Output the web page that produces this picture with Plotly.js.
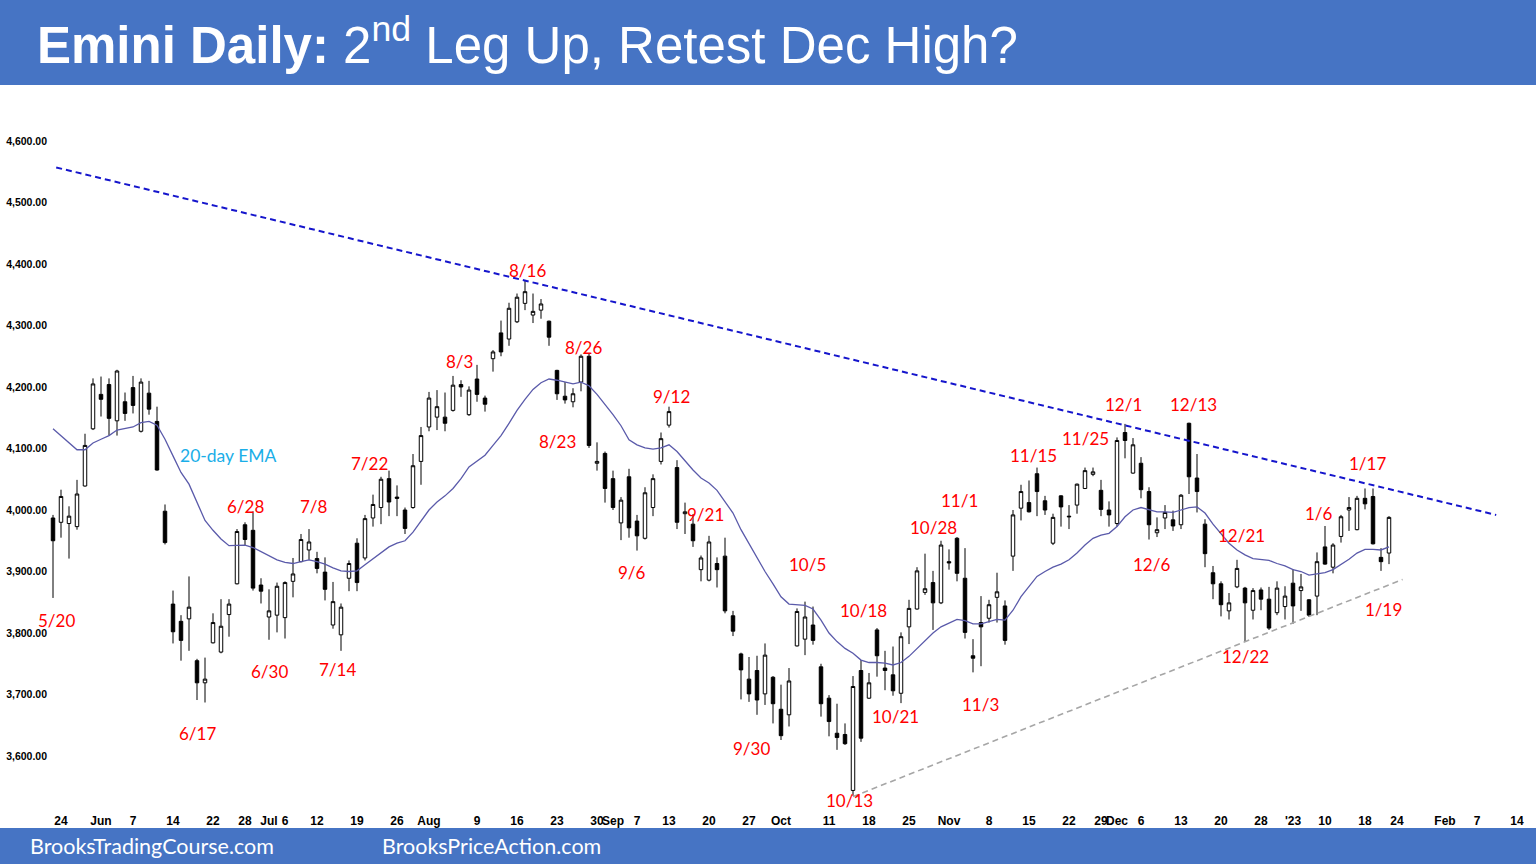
<!DOCTYPE html>
<html>
<head>
<meta charset="utf-8">
<script src="https://cdn.plot.ly/plotly-3.0.1.min.js"></script>
<style>
html,body{margin:0;padding:0;background:#fff;overflow:hidden;}
#chart{width:1536px;height:864px;}
</style>
</head>
<body>
<div id="chart"></div>
<script>
// ---- data (daily Emini bars, 2022-05-20 .. 2023-01-20) ----
const dates = ['5/20','5/23','5/24','5/25','5/26','5/27','5/31',
'6/1','6/2','6/3','6/6','6/7','6/8','6/9','6/10','6/13','6/14','6/15','6/16','6/17','6/21','6/22','6/23','6/24','6/27','6/28','6/29','6/30',
'7/1','7/5','7/6','7/7','7/8','7/11','7/12','7/13','7/14','7/15','7/18','7/19','7/20','7/21','7/22','7/25','7/26','7/27','7/28','7/29',
'8/1','8/2','8/3','8/4','8/5','8/8','8/9','8/10','8/11','8/12','8/15','8/16','8/17','8/18','8/19','8/22','8/23','8/24','8/25','8/26','8/29','8/30','8/31',
'9/1','9/2','9/6','9/7','9/8','9/9','9/12','9/13','9/14','9/15','9/16','9/19','9/20','9/21','9/22','9/23','9/26','9/27','9/28','9/29','9/30',
'10/3','10/4','10/5','10/6','10/7','10/10','10/11','10/12','10/13','10/14','10/17','10/18','10/19','10/20','10/21','10/24','10/25','10/26','10/27','10/28','10/31',
'11/1','11/2','11/3','11/4','11/7','11/8','11/9','11/10','11/11','11/14','11/15','11/16','11/17','11/18','11/21','11/22','11/23','11/25','11/28','11/29','11/30',
'12/1','12/2','12/5','12/6','12/7','12/8','12/9','12/12','12/13','12/14','12/15','12/16','12/19','12/20','12/21','12/22','12/23','12/27','12/28','12/29','12/30',
'1/3','1/4','1/5','1/6','1/9','1/10','1/11','1/12','1/13','1/17','1/18','1/19','1/20'];

const openPx = [3987,3980,3978,3973,4039,4132,4188,
4204,4145,4176,4199,4128,4190,4144,3998,3847,3819,3823,3755,3719,3784,3769,3830,3880,3976,3967,3878,3826,
3829,3825,3884,3916,3935,3921,3899,3813,3797,3889,3946,3922,3987,4004,4051,4021,4000,4004,4079,4135,
4151,4151,4162,4204,4155,4213,4182,4246,4288,4278,4306,4336,4317,4325,4307,4227,4185,4176,4208,4250,4076,4092,4051,
3979,4054,3982,3954,4004,4079,4138,4069,3994,3977,3903,3886,3913,3925,3828,3766,3725,3739,3701,3728,3676,
3667,3779,3790,3813,3745,3694,3637,3635,3544,3739,3694,3805,3743,3732,3702,3810,3839,3866,3882,3849,3916,
3954,3889,3763,3817,3824,3858,3844,3925,4003,4012,4059,4015,3946,4023,3990,4008,4035,4058,4032,4000,3978,
4126,4060,4076,4030,3963,3987,3984,3976,4141,4052,3977,3898,3880,3836,3875,3873,3837,3870,3855,3833,3843,
3881,3869,3854,3860,3940,3907,3957,4000,3968,4019,4022,3923,3930];

const highPx = [3992,4033,4006,4049,4124,4214,4217,
4214,4228,4191,4218,4214,4210,4168,4009,3869,3829,3892,3758,3760,3832,3855,3855,3969,3980,3998,3889,3871,
3882,3884,3922,3961,3969,3932,3923,3883,3848,3918,3954,3992,4025,4054,4064,4040,4004,4091,4135,4192,
4195,4191,4218,4211,4201,4236,4186,4260,4308,4337,4352,4373,4352,4343,4308,4228,4208,4198,4253,4254,4110,4095,4064,
4021,4067,3992,4037,4058,4126,4168,4081,4012,3993,3926,3958,3923,3955,3836,3768,3761,3763,3783,3730,3716,
3743,3840,3851,3843,3750,3699,3685,3653,3730,3756,3735,3808,3771,3778,3801,3854,3907,3929,3901,3950,3936,
3956,3938,3790,3860,3854,3898,3853,4000,4041,4048,4069,4023,3994,4024,4008,4043,4069,4069,4049,4014,4118,
4140,4117,4086,4037,3988,4008,3999,4026,4142,4091,3985,3909,3884,3865,3919,3875,3873,3874,3875,3884,3876,
3904,3896,3855,3931,3974,3946,3992,4021,4023,4035,4035,3938,3990];

const lowPx = [3857,3955,3921,3968,4038,4130,4152,
4121,4121,4145,4157,4126,4155,4064,3944,3783,3755,3771,3691,3687,3783,3767,3794,3879,3942,3869,3848,3789,
3801,3791,3858,3915,3919,3897,3853,3807,3771,3868,3868,3918,3973,3977,3990,3990,3961,4002,4041,4128,
4130,4128,4160,4184,4153,4176,4160,4225,4250,4267,4304,4325,4304,4311,4267,4179,4173,4167,4193,4101,4064,4012,4000,
3951,3955,3934,3952,3990,4074,4134,3969,3961,3940,3884,3884,3874,3832,3795,3692,3688,3667,3683,3653,3626,
3648,3778,3764,3781,3664,3632,3610,3618,3535,3623,3693,3729,3707,3698,3686,3782,3838,3862,3805,3847,3903,
3884,3791,3736,3746,3817,3817,3781,3901,3983,3996,3990,3992,3943,3973,3969,3994,4034,4055,3990,3973,3973,
4084,4059,4019,3952,3956,3969,3966,3969,4026,3996,3907,3855,3827,3822,3873,3786,3822,3837,3805,3829,3822,
3815,3836,3826,3829,3911,3897,3947,3966,3967,4001,3944,3901,3912];

const closePx = [3950,4022,3990,4026,4105,4205,4180,
4149,4226,4157,4170,4208,4164,4065,3947,3802,3788,3842,3719,3725,3817,3811,3847,3965,3952,3873,3868,3836,
3876,3882,3896,3952,3948,3905,3871,3851,3842,3913,3882,3986,4009,4050,4013,4019,3970,4072,4121,4182,
4168,4141,4203,4200,4195,4188,4172,4257,4257,4328,4346,4355,4323,4335,4281,4189,4179,4189,4250,4105,4079,4035,4004,
4016,3971,3958,4028,4051,4116,4160,3980,3997,3950,3922,3948,3903,3836,3803,3740,3701,3691,3764,3685,3633,
3722,3835,3826,3788,3685,3656,3630,3620,3713,3629,3719,3763,3739,3706,3794,3840,3901,3872,3849,3943,3914,
3897,3801,3759,3810,3846,3867,3788,3992,4030,3997,4030,4000,3988,4005,3989,4042,4064,4062,4001,3992,4113,
4113,4106,4033,3976,3968,3996,3974,4024,4054,4030,3929,3880,3846,3849,3905,3849,3869,3855,3808,3873,3860,
3844,3875,3829,3916,3912,3943,3989,4004,4019,4010,3945,3916,3988];

const ema20 = [4132,4121,4109,4098,4098,4109,4115,
4121,4130,4132,4135,4142,4144,4138,4115,4088,4061,4042,4011,3983,3967,3953,3942,3942,3943,3939,3932,3925,
3919,3915,3913,3916,3919,3916,3912,3906,3901,3900,3901,3911,3921,3930,3940,3946,3950,3964,3983,4000,
4013,4023,4035,4051,4070,4080,4089,4105,4121,4141,4162,4180,4196,4207,4213,4211,4208,4205,4208,4202,4188,4172,4155,
4137,4114,4106,4101,4099,4101,4106,4095,4080,4065,4052,4044,4032,4013,3995,3968,3945,3922,3900,3880,3859,
3847,3846,3845,3839,3821,3800,3786,3775,3767,3756,3752,3752,3751,3748,3752,3762,3775,3788,3800,3810,3816,
3822,3820,3815,3815,3818,3822,3821,3837,3859,3875,3892,3900,3907,3912,3919,3930,3943,3954,3959,3962,3973,
3989,4000,4004,4001,3997,3997,3996,4000,4004,4005,3995,3977,3961,3946,3935,3927,3921,3919,3918,3913,3909,
3903,3900,3894,3896,3898,3903,3911,3920,3930,3936,3936,3935,3940];

// trend lines (bar index, price)
const upperTrendBar = [0.4, 180.4];
const upperTrendValue = [4557, 3992];
const lowerTrendBar = [100, 168.7];
const lowerTrendValue = [3534, 3887];

// axis labels
const futureDates = ['1/23','1/24','1/25','1/26','1/27','1/30','1/31','2/1','2/2','2/3','2/6','2/7','2/8','2/9','2/10','2/13','2/14'];
const tickDates = ['5/24','6/1','6/7','6/14','6/22','6/28','7/1','7/6','7/12','7/19','7/26','8/1','8/9','8/16','8/23','8/30','9/1','9/7','9/13','9/20','9/27','10/3','10/11','10/18','10/25','11/1','11/8','11/15','11/22','11/29','12/1','12/6','12/13','12/20','12/28','1/3','1/10','1/18','1/24','2/1','2/7','2/14'];
const tickLabels = ['24','Jun','7','14','22','28','Jul','6','12','19','26','Aug','9','16','23','30','Sep','7','13','20','27','Oct','11','18','25','Nov','8','15','22','29','Dec','6','13','20','28',"'23",'10','18','24','Feb','7','14'];
const priceTicks = [3600,3700,3800,3900,4000,4100,4200,4300,4400,4500,4600];

// red swing labels (text) and where they sit (layout only)
const calloutText = ['5/20','6/17','6/28','6/30','7/8','7/14','7/22','8/3','8/16','8/26','8/23','9/12','9/6','9/21','10/5','9/30','10/18','10/13','10/21','10/28','11/1','11/3','11/15','11/25','12/1','12/13','12/6','12/21','12/22','1/6','1/17','1/19'];
const calloutPlace = [[0.4,3820],[18,3636],[24,4005],[27.1,3738],[32.6,4006],[35.5,3741],[39.6,4076],[50.75,4241],[59.25,4389],[66.25,4265],[63,4112],[77.25,4184],[72.4,3898],[81.6,3992],[94.25,3911],[87.25,3613],[101.25,3836],[99.5,3527],[105.25,3665],[110,3972],[113.25,4015],[115.9,3683],[122.5,4088],[129,4117],[133.75,4171],[142.5,4172],[137.25,3912],[148.5,3959],[149,3761],[158.25,3995],[164.25,4076],[166.25,3839]];

// ---- build ----
const barIdx = dates.map((d, i) => i);
const calendar = dates.concat(futureDates);
const tickVals = tickDates.map((d, i) => calendar.indexOf(d) - (tickLabels[i] === "'23" ? 0 : 1));

const traces = [
  {type:'scatter', mode:'lines', x: upperTrendBar, y: upperTrendValue,
   line:{color:'#1515CC', width:2, dash:'6px,4px'}, hoverinfo:'skip'},
  {type:'scatter', mode:'lines', x: lowerTrendBar, y: lowerTrendValue,
   line:{color:'#A6A6A6', width:1.6, dash:'6px,4px'}, hoverinfo:'skip'},
  {type:'scatter', mode:'lines', x: barIdx, y: ema20,
   line:{color:'#5A5AAA', width:1.3}, hoverinfo:'skip'},
  {type:'candlestick', x: barIdx, open: openPx, high: highPx, low: lowPx, close: closePx,
   increasing:{line:{color:'#000000', width:1}, fillcolor:'#FFFFFF'},
   decreasing:{line:{color:'#000000', width:1}, fillcolor:'#000000'},
   whiskerwidth:0, hoverinfo:'skip'}
];

const L = 48, T = 90, PW = 1488, PH = 720;
const annotations = calloutText.map((t, i) => ({
  x: calloutPlace[i][0], y: calloutPlace[i][1], xref:'x', yref:'y', text: t, showarrow:false,
  xanchor:'center', yanchor:'middle', borderpad:0,
  font:{family:'Lato, Carlito, Calibri, sans-serif', size:17, color:'#FF0000'}
}));
annotations.push({x:21.9, y:4089, xref:'x', yref:'y', text:'20-day EMA', showarrow:false,
  xanchor:'center', yanchor:'middle', font:{family:'Lato, Carlito, Calibri, sans-serif', size:17.5, color:'#1AAEE8'}});
annotations.push({x:(28-L)/PW, y:(T+PH-846)/PH, xref:'paper', yref:'paper', text:'BrooksTradingCourse.com',
  showarrow:false, xanchor:'left', yanchor:'middle', font:{family:'Lato, sans-serif', size:21.5, color:'#FFFFFF'}});
annotations.push({x:(380-L)/PW, y:(T+PH-846)/PH, xref:'paper', yref:'paper', text:'BrooksPriceAction.com',
  showarrow:false, xanchor:'left', yanchor:'middle', font:{family:'Lato, sans-serif', size:21.5, color:'#FFFFFF'}});

const layout = {
  width:1536, height:864,
  margin:{l:L, r:0, t:T, b:864-T-PH, pad:0},
  paper_bgcolor:'#FFFFFF', plot_bgcolor:'#FFFFFF',
  showlegend:false, hovermode:false, boxgap:0.38,
  title:{
    text:'<b>Emini Daily:</b> 2<sup>nd</sup> Leg Up, Retest Dec High?',
    font:{family:'Liberation Sans, Arial, sans-serif', size:51, color:'#FFFFFF'},
    x:37/1536, xanchor:'left', xref:'container',
    y:1-45/864, yanchor:'middle', yref:'container'
  },
  xaxis:{
    range:[-(53-L)/8, -(53-L)/8 + PW/8],
    tickmode:'array', tickvals:tickVals, ticktext:tickLabels, tickangle:0,
    showgrid:false, zeroline:false, showline:false, ticks:'', ticklabelstandoff:2,
    tickfont:{family:'Liberation Sans Narrow, Arial Narrow, Arial, sans-serif', size:12, color:'#000000', weight:'bold'},
    rangeslider:{visible:false}, fixedrange:true
  },
  yaxis:{
    range:[4600 - (T+PH-141)/0.615, 4600 + (141-T)/0.615],
    tickmode:'array', tickvals:priceTicks, tickformat:',.2f',
    showgrid:false, zeroline:false, showline:false, ticks:'',
    tickfont:{family:'Liberation Sans, Arial, sans-serif', size:10.5, color:'#000000', weight:'bold'},
    fixedrange:true
  },
  shapes:[
    {type:'rect', xref:'paper', yref:'paper', x0:-L/PW, x1:1, y0:(T+PH-85)/PH, y1:(T+PH)/PH,
     fillcolor:'#4674C4', line:{width:0}, layer:'above'},
    {type:'rect', xref:'paper', yref:'paper', x0:-L/PW, x1:1, y0:(T+PH-864)/PH, y1:(T+PH-828)/PH,
     fillcolor:'#4674C4', line:{width:0}, layer:'above'}
  ],
  annotations: annotations
};

Plotly.newPlot('chart', traces, layout, {displayModeBar:false, staticPlot:true});
</script>
</body>
</html>
